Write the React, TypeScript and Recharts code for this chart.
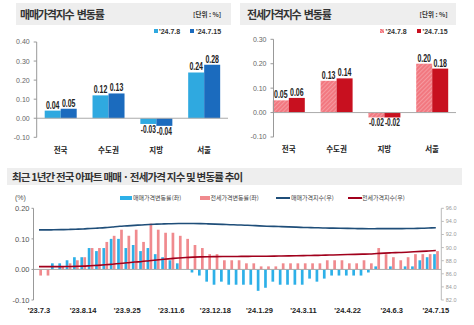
import React from 'react';
import { BarChart, Bar, XAxis, YAxis, ReferenceLine, LabelList, ComposedChart, Line } from 'recharts';

// ---- top charts ----
const regions = ['전국', '수도권', '지방', '서울'];
const saleWeek1 = [0.04, 0.12, -0.03, 0.24]; // '24.7.8
const saleWeek2 = [0.05, 0.13, -0.04, 0.28]; // '24.7.15
const jeonseWeek1 = [0.05, 0.13, -0.02, 0.2];
const jeonseWeek2 = [0.06, 0.14, -0.02, 0.18];
const saleTicks = [-0.1, 0, 0.1, 0.2, 0.3, 0.4];
const jeonseTicks = [-0.1, 0, 0.1, 0.2, 0.3];

// ---- bottom chart ----
const weeks = [
  "'23.7.3", "'23.7.10", "'23.7.17", "'23.7.24", "'23.7.31", "'23.8.7", "'23.8.14", "'23.8.21", "'23.8.28", "'23.9.4",
  "'23.9.11", "'23.9.18", "'23.9.25", "'23.10.2", "'23.10.9", "'23.10.16", "'23.10.23", "'23.10.30", "'23.11.6", "'23.11.13",
  "'23.11.20", "'23.11.27", "'23.12.4", "'23.12.11", "'23.12.18", "'23.12.25", "'24.1.1", "'24.1.8", "'24.1.15", "'24.1.22",
  "'24.1.29", "'24.2.5", "'24.2.12", "'24.2.19", "'24.2.26", "'24.3.4", "'24.3.11", "'24.3.18", "'24.3.25", "'24.4.1",
  "'24.4.8", "'24.4.15", "'24.4.22", "'24.4.29", "'24.5.6", "'24.5.13", "'24.5.20", "'24.5.27", "'24.6.3", "'24.6.10",
  "'24.6.17", "'24.6.24", "'24.7.1", "'24.7.8", "'24.7.15",
];
const saleRate = [
  0.0, 0.0, 0.02, 0.02, 0.03, 0.04, 0.04, 0.07, 0.06, 0.07,
  0.1, 0.1, 0.07, 0.08, 0.06, 0.07, 0.05, 0.04, 0.03, 0.02,
  0.0, -0.01, -0.02, -0.04, -0.05, -0.04, -0.05, -0.05, -0.05, -0.05,
  -0.07, -0.06, -0.04, -0.05, -0.05, -0.05, -0.05, -0.03, -0.04, -0.03,
  -0.02, -0.02, -0.02, -0.02, -0.02, -0.01, 0.01, 0.0, 0.01, 0.0,
  0.01, 0.01, 0.03, 0.04, 0.05,
];
const jeonseRate = [
  -0.02, -0.02, 0.0, 0.01, 0.02, 0.03, 0.04, 0.07, 0.07, 0.09,
  0.11, 0.13, 0.11, 0.13, 0.09, 0.15, 0.13, 0.12, 0.12, 0.11,
  0.1, 0.08, 0.07, 0.05, 0.05, 0.03, 0.03, 0.03, 0.02, 0.02,
  0.01, 0.01, 0.01, 0.02, 0.02, 0.02, 0.02, 0.02, 0.02, 0.03,
  0.03, 0.03, 0.02, 0.02, 0.03, 0.02, 0.07, 0.05, 0.04, 0.03,
  0.04, 0.05, 0.05, 0.05, 0.06,
];
const saleIndex = [
  92.7, 92.7, 92.72, 92.74, 92.77, 92.81, 92.85, 92.92, 92.98, 93.05,
  93.15, 93.25, 93.32, 93.4, 93.46, 93.53, 93.58, 93.62, 93.65, 93.67,
  93.68, 93.68, 93.66, 93.62, 93.58, 93.54, 93.5, 93.46, 93.42, 93.38,
  93.32, 93.27, 93.24, 93.2, 93.16, 93.12, 93.08, 93.05, 93.02, 92.99,
  92.97, 92.95, 92.93, 92.91, 92.89, 92.88, 92.89, 92.89, 92.9, 92.9,
  92.91, 92.92, 92.95, 92.99, 93.04,
];
const jeonseIndex = [
  87.1, 87.09, 87.09, 87.09, 87.11, 87.14, 87.17, 87.23, 87.29, 87.37,
  87.47, 87.58, 87.68, 87.79, 87.87, 88.0, 88.11, 88.22, 88.32, 88.42,
  88.5, 88.55, 88.58, 88.6, 88.62, 88.63, 88.64, 88.65, 88.66, 88.67,
  88.68, 88.69, 88.7, 88.72, 88.74, 88.76, 88.78, 88.8, 88.82, 88.85,
  88.88, 88.91, 88.94, 88.97, 89.0, 89.03, 89.1, 89.16, 89.21, 89.25,
  89.3, 89.36, 89.42, 89.48, 89.55,
];
const leftTicks = [-0.1, 0, 0.1, 0.2];
const rightTicks = [82, 84, 86, 88, 90, 92, 94, 96];

const saleTop = regions.map((c, i) => ({ cat: c, w1: saleWeek1[i], w2: saleWeek2[i] }));
const jeonseTop = regions.map((c, i) => ({ cat: c, w1: jeonseWeek1[i], w2: jeonseWeek2[i] }));
const trend = weeks.map((d, i) => ({
  date: d,
  sale: saleRate[i],
  jeonse: jeonseRate[i],
  saleIdx: saleIndex[i],
  jeonseIdx: jeonseIndex[i],
}));

const KR = "'Noto Sans CJK KR', 'Noto Sans', sans-serif";
const NUM = "'Liberation Sans', Arial, sans-serif";
const NARROW = "'Liberation Sans Narrow', 'Liberation Sans', Arial, sans-serif";

const C = {
  lightBlue: '#2FA9E0',
  darkBlue: '#1B6BBE',
  lightRed: '#F27880',
  darkRed: '#C8101F',
  barBlue: '#2DB0E8',
  barRed: '#F08A8E',
  lineBlue: '#1F4E79',
  lineRed: '#A1001C',
  titleBg: '#EEEEEE',
};

const valueLabel = (props: any) => {
  const { x, y, width, height, value } = props;
  if (value === undefined || value === null) return null;
  const v = Number(value);
  const top = Math.min(y, y + height);
  const bot = Math.max(y, y + height);
  const neg = v < 0;
  const ty = neg ? bot + 9 : top - 2;
  return (
    <text
      x={x + width / 2}
      y={ty}
      textAnchor="middle"
      fontSize={10.5}
      fontWeight={700}
      fill="#222"
      fontFamily={NARROW}
      textLength={neg ? 15 : 13.6}
      lengthAdjust="spacingAndGlyphs"
    >
      {v.toFixed(2)}
    </text>
  );
};

const fmt2 = (v: number) => v.toFixed(2);
const fmt1 = (v: number) => v.toFixed(1);

const TitleBar = ({ left, top, width, height, text, size, textLeft, spacing, wordSpacing }: any) => (
  <div
    style={{
      position: 'absolute',
      left,
      top,
      width,
      height,
      background: C.titleBg,
    }}
  >
    <div
      style={{
        position: 'absolute',
        left: textLeft,
        top: 0,
        height,
        lineHeight: height + 'px',
        fontSize: size,
        fontWeight: 700,
        color: '#333',
        fontFamily: KR,
        letterSpacing: spacing,
        wordSpacing,
        whiteSpace: 'nowrap',
      }}
    >
      {text}
    </div>
  </div>
);

const SmallText = ({ left, top, text, size = 7, color = '#333', weight = 700, family = KR }: any) => (
  <div
    style={{
      position: 'absolute',
      left,
      top,
      fontSize: size,
      lineHeight: size + 2 + 'px',
      fontWeight: weight,
      color,
      fontFamily: family,
      whiteSpace: 'nowrap',
    }}
  >
    {text}
  </div>
);

const Swatch = ({ left, top, w, h, bg }: any) => (
  <div style={{ position: 'absolute', left, top, width: w, height: h, background: bg }} />
);

const hatchCss = `repeating-linear-gradient(45deg, ${C.lightRed} 0px, ${C.lightRed} 1.5px, #F8AEB2 1.5px, #F8AEB2 2.5px)`;

export default function App() {
  return (
    <div
      style={{
        position: 'absolute',
        left: 0,
        top: 0,
        width: 474,
        height: 325,
        background: '#fff',
        overflow: 'hidden',
        fontFamily: KR,
      }}
    >
      {/* ---------- top-left ---------- */}
      <TitleBar left={16} top={3} width={215} height={22} text="매매가격지수 변동률" size={11} textLeft={4} spacing="-1.2px" wordSpacing="2px" />
      <SmallText left={193} top={10} text="[단위 : %]" size={6.5} />
      <Swatch left={153.5} top={29} w={4} h={4} bg={C.lightBlue} />
      <SmallText left={159} top={26.5} text="'24.7.8" size={7} family={NUM} />
      <Swatch left={190} top={29} w={4} h={4} bg={C.darkBlue} />
      <SmallText left={196} top={26.5} text="'24.7.15" size={7} family={NUM} />
      <div style={{ position: 'absolute', left: 0, top: 0 }}>
        <BarChart
          width={237}
          height={160}
          data={saleTop}
          margin={{ top: 42, right: 9, bottom: 0, left: 0 }}
          barGap={0}
        >
          <XAxis
            dataKey="cat"
            axisLine={false}
            tickLine={false}
            height={22.7}
            tickMargin={4}
            interval={0}
            tick={{ fontSize: 7.5, fontWeight: 700, fill: '#222', fontFamily: KR }}
          />
          <YAxis
            width={36.7}
            domain={[-0.1, 0.4]}
            ticks={saleTicks}
            interval={0}
            tickFormatter={fmt2}
            axisLine={{ stroke: '#999' }}
            tickLine={{ stroke: '#999' }}
            tickSize={3}
            tickMargin={4}
            tick={{ fontSize: 7, fill: '#666', fontFamily: NUM }}
          />
          <ReferenceLine y={0} stroke="#aaa" />
          <Bar dataKey="w1" fill={C.lightBlue} barSize={16} isAnimationActive={false}>
            <LabelList dataKey="w1" content={valueLabel} />
          </Bar>
          <Bar dataKey="w2" fill={C.darkBlue} barSize={16} isAnimationActive={false}>
            <LabelList dataKey="w2" content={valueLabel} />
          </Bar>
        </BarChart>
      </div>

      {/* ---------- top-right ---------- */}
      <TitleBar left={240} top={3} width={216} height={22} text="전세가격지수 변동률" size={11} textLeft={7} spacing="-1.2px" wordSpacing="2px" />
      <SmallText left={419.5} top={10} text="[단위 : %]" size={6.5} />
      <Swatch left={379.5} top={29} w={4} h={4} bg={hatchCss} />
      <SmallText left={385.5} top={26.5} text="'24.7.8" size={7} family={NUM} />
      <Swatch left={417} top={29} w={4} h={4} bg={C.darkRed} />
      <SmallText left={422.5} top={26.5} text="'24.7.15" size={7} family={NUM} />
      <div style={{ position: 'absolute', left: 237, top: 0 }}>
        <BarChart
          width={237}
          height={160}
          data={jeonseTop}
          margin={{ top: 39.3, right: 18, bottom: 0, left: 0 }}
          barGap={0}
        >
          <defs>
            <pattern id="hatchRed" patternUnits="userSpaceOnUse" width="3" height="3" patternTransform="rotate(45)">
              <rect width="3" height="3" fill={C.lightRed} />
              <line x1="0" y1="0" x2="0" y2="3" stroke="#F8B0B4" strokeWidth="1.2" />
            </pattern>
          </defs>
          <XAxis
            dataKey="cat"
            axisLine={false}
            tickLine={false}
            height={23}
            tickMargin={4}
            interval={0}
            padding={{ left: -8.7, right: 0 }}
            tick={{ fontSize: 7.5, fontWeight: 700, fill: '#222', fontFamily: KR }}
          />
          <YAxis
            width={36.5}
            domain={[-0.1, 0.3]}
            ticks={jeonseTicks}
            interval={0}
            tickFormatter={fmt2}
            axisLine={{ stroke: '#999' }}
            tickLine={{ stroke: '#999' }}
            tickSize={3}
            tickMargin={4}
            tick={{ fontSize: 7, fill: '#666', fontFamily: NUM }}
          />
          <ReferenceLine y={0} stroke="#aaa" />
          <Bar dataKey="w1" fill="url(#hatchRed)" barSize={16} isAnimationActive={false}>
            <LabelList dataKey="w1" content={valueLabel} />
          </Bar>
          <Bar dataKey="w2" fill={C.darkRed} barSize={16} isAnimationActive={false}>
            <LabelList dataKey="w2" content={valueLabel} />
          </Bar>
        </BarChart>
      </div>

      {/* ---------- bottom ---------- */}
      <TitleBar
        left={7}
        top={168}
        width={455}
        height={17}
        text="최근 1년간 전국 아파트 매매 · 전세가격 지수 및 변동률 추이"
        size={10.5}
        textLeft={5}
        spacing="-0.8px"
        wordSpacing="0px"
      />
      <SmallText left={15} top={193} text="(%)" size={7} color="#555" weight={400} family={NUM} />
      <Swatch left={119.5} top={196} w={12} h={3.5} bg={C.barBlue} />
      <SmallText left={133} top={193.5} text="매매가격변동률(좌)" size={6} color="#444" weight={400} />
      <Swatch left={199.5} top={196} w={10} h={3.5} bg={C.barRed} />
      <SmallText left={210.5} top={193.5} text="전세가격변동률(좌)" size={6} color="#444" weight={400} />
      <Swatch left={276} top={197} w={14} h={1.6} bg={C.lineBlue} />
      <SmallText left={291} top={193.5} text="매매가격지수(우)" size={6} color="#444" weight={400} />
      <Swatch left={347.5} top={197} w={14} h={1.6} bg={C.lineRed} />
      <SmallText left={362} top={193.5} text="전세가격지수(우)" size={6} color="#444" weight={400} />
      <div style={{ position: 'absolute', left: 0, top: 185 }}>
        <ComposedChart
          width={474}
          height={140}
          data={trend}
          margin={{ top: 23.3, right: 0, bottom: 0, left: 0 }}
          barGap={0.3}
        >
          <XAxis
            dataKey="date"
            interval={5}
            axisLine={false}
            tickLine={false}
            height={25}
            tickMargin={2}
            padding={{ left: 1.8, right: 1.8 }}
            tick={{ fontSize: 7.5, fontWeight: 700, fill: '#222', fontFamily: NUM }}
          />
          <YAxis
            yAxisId="L"
            width={33.5}
            domain={[-0.1, 0.2]}
            ticks={leftTicks}
            interval={0}
            tickFormatter={fmt2}
            axisLine={{ stroke: '#999' }}
            tickLine={{ stroke: '#999' }}
            tickSize={2}
            tickMargin={2}
            tick={{ fontSize: 7.5, fill: '#555', fontFamily: NUM }}
          />
          <YAxis
            yAxisId="R"
            orientation="right"
            width={32.7}
            domain={[82, 96]}
            ticks={rightTicks}
            interval={0}
            tickFormatter={fmt1}
            axisLine={{ stroke: '#bbb' }}
            tickLine={{ stroke: '#bbb' }}
            tickSize={2.5}
            tickMargin={2}
            tick={{ fontSize: 5.5, fill: '#999', fontFamily: NUM }}
          />
          <ReferenceLine yAxisId="L" y={0} stroke="#aaa" />
          <Bar yAxisId="L" dataKey="sale" fill={C.barBlue} barSize={2.7} isAnimationActive={false} />
          <Bar yAxisId="L" dataKey="jeonse" fill={C.barRed} barSize={2.7} isAnimationActive={false} />
          <Line
            yAxisId="R"
            dataKey="saleIdx"
            stroke={C.lineBlue}
            strokeWidth={1.6}
            dot={false}
            type="monotone"
            isAnimationActive={false}
          />
          <Line
            yAxisId="R"
            dataKey="jeonseIdx"
            stroke={C.lineRed}
            strokeWidth={1.6}
            dot={false}
            type="monotone"
            isAnimationActive={false}
          />
        </ComposedChart>
      </div>
    </div>
  );
}
